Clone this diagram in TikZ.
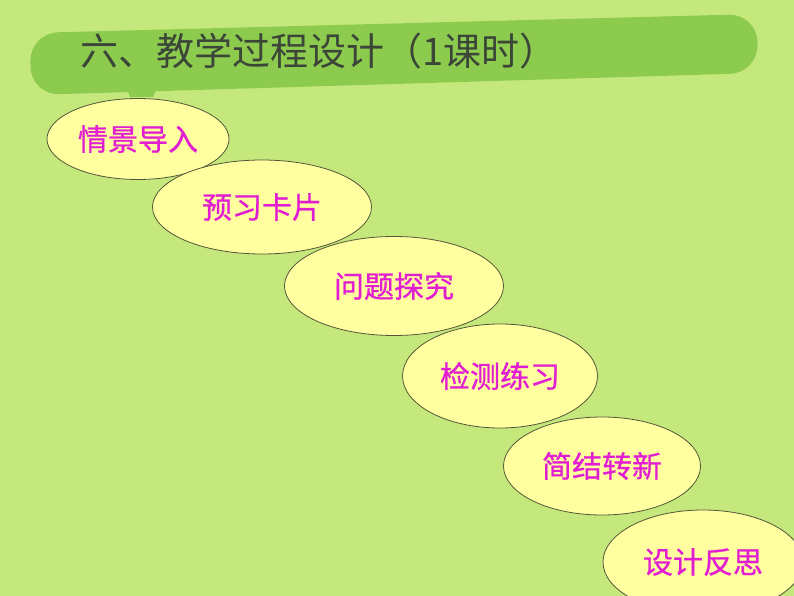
\documentclass[tikz,border=0pt]{standalone}
\usepackage{fontspec}
\setmainfont{Noto Sans CJK SC}
\newfontfamily\cjk{Noto Sans CJK SC}
\newfontfamily\cjkb[FakeBold=0.8]{Noto Sans CJK SC}
\usetikzlibrary{shapes.geometric}
\definecolor{bgc}{HTML}{C5E87C}
\definecolor{bannerc}{HTML}{8DCB4F}
\definecolor{titlec}{HTML}{3B4638}
\definecolor{ellfill}{HTML}{FFFFA0}
\definecolor{elldraw}{HTML}{55553A}
\definecolor{txtc}{HTML}{E21ED2}
\tikzset{
  stagebox/.style={ellipse, draw=elldraw, line width=0.8pt, fill=ellfill,
    inner sep=0pt, text=txtc, font=\cjkb\fontsize{30}{31}\selectfont},
  titletext/.style={inner sep=0pt, text=titlec, font=\cjk\fontsize{38}{40}\selectfont}
}
\begin{document}
\begin{tikzpicture}[x=1pt,y=-1pt]
\useasboundingbox (0,0) rectangle (794,596);
\fill[bgc] (0,0) rectangle (794,596);
% banner
\fill[bannerc] (124,80) -- (160,80) -- (153,97) -- (130,97) -- cycle;
\fill[bannerc, rounded corners=28pt] (30,33) -- (757,14) -- (758,73) -- (31,95) -- cycle;
\node[titletext, anchor=base west] (title) at (80,66) {六、教学过程设计（1课时）};
% stages
\node[stagebox, minimum width=182pt, minimum height=81pt] (s1) at (138,139) {情景导入};
\node[stagebox, minimum width=219pt, minimum height=94pt] (s2) at (262,207) {预习卡片};
\node[stagebox, minimum width=219pt, minimum height=99pt] (s3) at (394,286) {问题探究};
\node[stagebox, minimum width=195pt, minimum height=104pt] (s4) at (500,376) {检测练习};
\node[stagebox, minimum width=197pt, minimum height=98pt] (s5) at (602,466) {简结转新};
\node[stagebox, minimum width=200pt, minimum height=104pt] (s6) at (703,562) {设计反思};
\end{tikzpicture}
\end{document}
